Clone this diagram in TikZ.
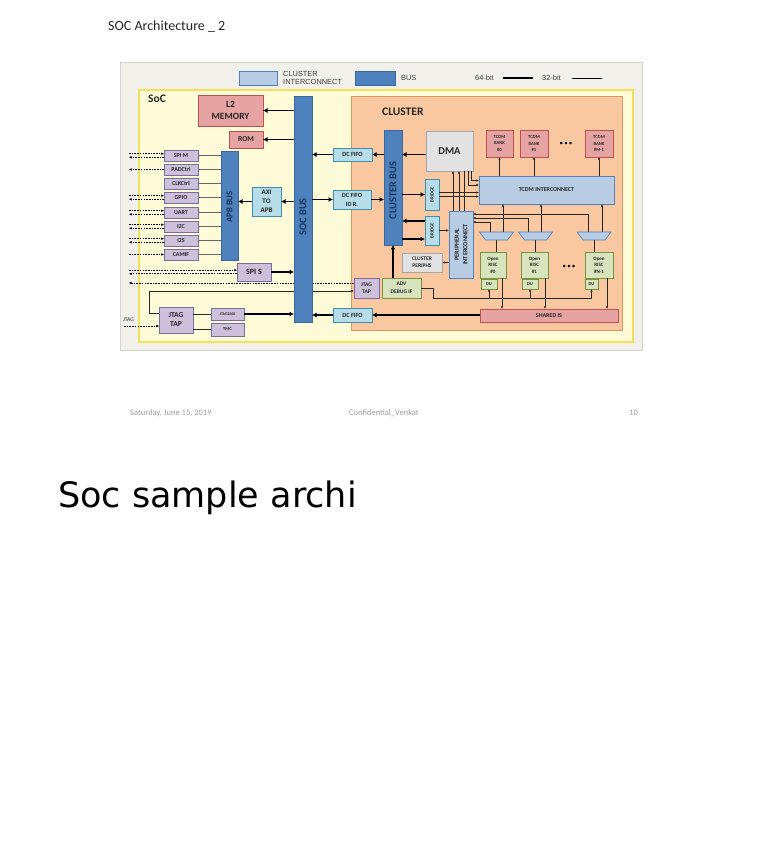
\documentclass[tikz,border=0pt]{standalone}
\usepackage{fontspec}
\setmainfont{Carlito}
\newfontfamily\dejavu{DejaVu Sans}
\newfontfamily\arialish{Liberation Sans}
\usetikzlibrary{arrows.meta}
\definecolor{framebg}{HTML}{F1F0EA}
\definecolor{framebd}{HTML}{D4D2CA}
\definecolor{socbg}{HTML}{FEFCD8}
\definecolor{socbd}{HTML}{F2E15A}
\definecolor{clbg}{HTML}{F9C8A0}
\definecolor{clbd}{HTML}{DC9662}
\definecolor{busfill}{HTML}{4F81BD}
\definecolor{busbd}{HTML}{3A679E}
\definecolor{icfill}{HTML}{B8CCE4}
\definecolor{icbd}{HTML}{4F81BD}
\definecolor{cyfill}{HTML}{B7DEE8}
\definecolor{cybd}{HTML}{3C8FB0}
\definecolor{redfill}{HTML}{E6A3A3}
\definecolor{redbd}{HTML}{C0504D}
\definecolor{purfill}{HTML}{CCC0DA}
\definecolor{purbd}{HTML}{7F6A9E}
\definecolor{grnfill}{HTML}{D7E4BD}
\definecolor{grnbd}{HTML}{77933C}
\definecolor{gryfill}{HTML}{E2E2E2}
\definecolor{grybd}{HTML}{A6A6A6}
\definecolor{txt}{HTML}{262626}
\definecolor{bustxt}{HTML}{17375E}
\definecolor{footgray}{HTML}{A0A0A0}
\definecolor{legtxtc}{HTML}{404040}
\newcommand\blk[7]{\node[#2, anchor=north west, minimum width={(#5-(#3))*1pt}, minimum height={(#6-(#4))*1pt}] (#1) at (#3,#4) {#7};}
\newcommand\dpair[2]{%
 \draw[dsh,dtip] ([yshift=1.8pt]#1.west) ++(-#2,0) -- ([yshift=1.8pt]#1.west);
 \draw[dsh,dtip] ([yshift=-1.8pt]#1.west) -- ++(-#2,0);}
\newcommand\muxat[3]{%
 \coordinate (#1) at (#2,#3);
 \coordinate (#1n) at (#2,#3-4);
 \coordinate (#1s) at (#2,#3+4);
 \draw[muxst] ([xshift=-17pt,yshift=4pt]#1) -- ([xshift=17pt,yshift=4pt]#1) -- ([xshift=11pt,yshift=-4pt]#1) -- ([xshift=-11pt,yshift=-4pt]#1) -- cycle;}
\tikzset{
 region/.style={draw, inner sep=0pt, outer sep=0pt},
 base/.style={draw, inner sep=0pt, outer sep=0pt, align=center, text=txt, line width=0.8pt},
 redb/.style={base, fill=redfill, draw=redbd},
 purb/.style={base, fill=purfill, draw=purbd, font=\bfseries\fontsize{6}{6.5}\selectfont},
 grnb/.style={base, fill=grnfill, draw=grnbd, font=\bfseries\fontsize{5}{6.6}\selectfont},
 gryb/.style={base, fill=gryfill, draw=grybd},
 cyb/.style={base, fill=cyfill, draw=cybd, font=\bfseries\fontsize{6.3}{9}\selectfont},
 icb/.style={base, fill=icfill, draw=icbd},
 busb/.style={base, fill=busfill, draw=busbd},
 bustext/.style={rotate=90, text=bustxt, inner sep=0pt, font=\bfseries\fontsize{10.5}{11}\selectfont},
 legtxt/.style={inner sep=0pt, text=legtxtc, align=left, font=\arialish\fontsize{7.4}{8.8}\selectfont},
 fat/.style={line width=1.5pt, draw=black, -{Latex[length=4.5pt,width=5pt]}},
 thinln/.style={line width=0.6pt, draw=black!85},
 thinarr/.style={thinln, -{Latex[length=2.6pt,width=2.4pt]}},
 dsh/.style={line width=0.7pt, dash pattern=on 1.6pt off 1.1pt},
 dtip/.style={-{Latex[length=2.6pt,width=2.6pt]}},
 muxst/.style={draw=icbd, fill=icfill, line width=0.7pt},
 foot/.style={inner sep=0pt, text=footgray, font=\fontsize{8.5}{10}\selectfont}
}
\begin{document}
\begin{tikzpicture}[x=1pt,y=-1pt]
\useasboundingbox (0,0) rectangle (768,866);
\fill[white] (0,0) rectangle (768,866);

\node[anchor=base west, inner sep=0pt, text=black!85, font=\fontsize{14}{16}\selectfont] (title) at (108,30.5) {SOC Architecture \_ 2};

% regions
\blk{frame}{region, fill=framebg, draw=framebd, line width=0.6pt}{120}{62}{642}{350}{}
\blk{soc}{region, fill=socbg, draw=socbd, line width=1.3pt}{139}{90}{633}{342}{}
\blk{cluster}{region, fill=clbg, draw=clbd, line width=1pt}{351}{97}{622}{330}{}
\node[anchor=west, inner sep=0pt, text=txt, font=\bfseries\fontsize{11.5}{12}\selectfont] (soclbl) at (148,98.5) {SoC};
\node[anchor=west, inner sep=0pt, text=txt, font=\bfseries\fontsize{11.5}{12}\selectfont] (cllbl) at (382,112) {CLUSTER};

% legend
\blk{legic}{icb}{239}{71}{277}{85}{}
\node[legtxt, anchor=west] (legictxt) at (283,78) {CLUSTER\\INTERCONNECT};
\blk{legbus}{busb}{355}{71}{395}{85}{}
\node[legtxt, anchor=west] (legbustxt) at (401,78) {BUS};
\node[legtxt, anchor=west] (l64) at (475,78) {64-bit};
\coordinate (l64a) at (503,78); \coordinate (l64b) at (533,78);
\draw[line width=1.6pt] (l64a) -- (l64b);
\node[legtxt, anchor=west] (l32) at (542,78) {32-bit};
\coordinate (l32a) at (572,78); \coordinate (l32b) at (602,78);
\draw[line width=0.6pt] (l32a) -- (l32b);

% cluster blocks
\blk{clbus}{busb}{384}{130}{402}{245}{}
\node[bustext] (clbustxt) at ([yshift=-3pt]clbus.center) {CLUSTER BUS};
\blk{dma}{gryb, font=\bfseries\fontsize{10.5}{11}\selectfont}{426}{131}{473}{171}{DMA}
\blk{bank0}{redb, font=\bfseries\fontsize{4.6}{6.5}\selectfont}{486}{130}{513}{157}{TCDM\\BANK\\\#0}
\blk{bank1}{redb, font=\bfseries\fontsize{4.6}{6.5}\selectfont}{520}{130}{548}{157}{TCDM\\BANK\\\#1}
\blk{bankm}{redb, font=\bfseries\fontsize{4.6}{6.5}\selectfont}{585}{130}{613}{157}{TCDM\\BANK\\\#M-1}
\node[inner sep=0pt, font=\fontsize{7}{7}\selectfont] (dots1) at (566,144) {\textbullet\,\textbullet\,\textbullet};
\blk{tcdm}{icb, font=\bfseries\fontsize{6}{7}\selectfont}{479}{176}{614}{204}{TCDM INTERCONNECT}
\blk{br1}{cyb}{425}{179}{439}{210}{}
\node[rotate=90, inner sep=0pt, text=txt, font=\bfseries\fontsize{4.8}{5}\selectfont] (br1t) at (br1.center) {BRIDGE};
\blk{br2}{cyb}{425}{216}{439}{245}{}
\node[rotate=90, inner sep=0pt, text=txt, font=\bfseries\fontsize{4.8}{5}\selectfont] (br2t) at (br2.center) {BRIDGE};
\blk{pi}{icb}{449}{211}{473}{278}{}
\node[rotate=90, inner sep=0pt, text=txt, align=center, font=\bfseries\fontsize{6.3}{8.5}\selectfont] (pit) at (pi.center) {PERIPHERAL\\INTERCONNECT};
\blk{cper}{gryb, font=\bfseries\fontsize{5.5}{7}\selectfont}{402}{253}{442}{272}{CLUSTER\\PERIPHS}
\muxat{mux0}{496.5}{236}
\muxat{mux1}{535.5}{236}
\muxat{muxn}{594}{236}
\blk{or0}{grnb}{480}{252}{506}{278}{Open\\RISC\\\#0}
\blk{or1}{grnb}{521}{252}{548}{278}{Open\\RISC\\\#1}
\blk{orn}{grnb}{585}{252}{613}{278}{Open\\RISC\\\#N-1}
\node[inner sep=0pt, font=\fontsize{7}{7}\selectfont] (dots2) at (569,267) {\textbullet\,\textbullet\,\textbullet};
\blk{du0}{grnb, font=\bfseries\fontsize{4.5}{5}\selectfont}{481}{279}{497}{289}{DU}
\blk{du1}{grnb, font=\bfseries\fontsize{4.5}{5}\selectfont}{522}{279}{538}{289}{DU}
\blk{dun}{grnb, font=\bfseries\fontsize{4.5}{5}\selectfont}{585}{279}{598}{289}{DU}
\blk{shared}{redb, font=\bfseries\fontsize{6}{7}\selectfont}{480}{309}{618}{322}{SHARED IS}
\blk{cjtag}{purb, font=\bfseries\fontsize{5.5}{7}\selectfont}{354}{278}{379}{298}{JTAG\\TAP}
\blk{adv}{grnb, font=\bfseries\fontsize{5.5}{8}\selectfont}{382}{278}{421}{298}{ADV\\DEBUG IF}

% cluster connections
\draw[fat] (clbus.east |- br1.west) -- (br1.west);
\coordinate (b2a) at ([yshift=9.5pt]br2.west);
\coordinate (b2b) at ([yshift=-8.5pt]br2.west);
\draw[fat] (b2a) -- (clbus.east |- b2a);
\draw[fat] (clbus.east |- b2b) -- (b2b);
\draw[fat] (clbus.south |- adv.north) -- (clbus.south);
\coordinate (br1a) at ([yshift=2pt]br1.east);
\coordinate (br1b) at ([yshift=-2pt]br1.east);
\draw[thinarr] (br1a) -- (tcdm.west |- br1a);
\draw[thinarr] (br1b) -- (tcdm.west |- br1b);
\draw[thinarr] (br2.east) -- (pi.west |- br2.east);
\coordinate (dv1) at ([xshift=3.5pt]dma.south);
\coordinate (dv2) at ([xshift=9.5pt]dma.south);
\coordinate (dv3) at ([xshift=15pt]dma.south);
\draw[thinarr] (dv1 |- pi.north) -- (dv1);
\draw[thinarr] (dv2 |- pi.north) -- (dv2);
\draw[thinln] (dv3) -- (dv3 |- pi.north);
\coordinate (dt1) at ([xshift=18.5pt]dma.south);
\coordinate (dt2) at ([xshift=22pt]dma.south);
\coordinate (dt1e) at ([yshift=-9pt]tcdm.north west);
\coordinate (dt2e) at ([yshift=-4.5pt]tcdm.north west);
\draw[thinarr] (dt1) |- (dt1e);
\draw[thinarr] (dt2) |- (dt2e);
\draw[thinarr] (tcdm.north -| bank0.south) -- (bank0.south);
\draw[thinarr] (tcdm.north -| bank1.south) -- (bank1.south);
\draw[thinarr] (tcdm.north -| bankm.south) -- (bankm.south);
\coordinate (m0t) at ([xshift=6.5pt]mux0n);
\coordinate (m1t) at ([xshift=5.5pt]mux1n);
\coordinate (mnt) at ([xshift=8pt]muxnn);
\draw[thinarr] (m0t) -- (m0t |- tcdm.south);
\draw[thinarr] (m1t) -- (m1t |- tcdm.south);
\draw[thinarr] (mnt) -- (mnt |- tcdm.south);
\coordinate (m0l) at ([xshift=-6.5pt]mux0n);
\coordinate (m1l) at ([xshift=-7.5pt]mux1n);
\coordinate (mnl) at ([xshift=-6pt]muxnn);
\coordinate (pia) at ([yshift=30.5pt]pi.east);
\coordinate (pib) at ([yshift=26.5pt]pi.east);
\coordinate (pic) at ([yshift=22.5pt]pi.east);
\draw[thinarr] (mnl) |- (pia);
\draw[thinarr] (m1l) |- (pib);
\draw[thinarr] (m0l) |- (pic);
\draw[thinarr] (pi.west |- cper.east) -- (cper.east);
\draw[thinln] (mux0s) -- (mux0s |- or0.north);
\draw[thinln] (mux1s) -- (mux1s |- or1.north);
\draw[thinln] (muxns) -- (muxns |- orn.north);
\coordinate (dbg1) at (433,298);
\draw[thinln] (adv.east) -| (dbg1) -- (dun.south |- dbg1);
\draw[thinarr] (du0.south |- dbg1) -- (du0.south);
\draw[thinarr] (du1.south |- dbg1) -- (du1.south);
\draw[thinarr] (dun.south |- dbg1) -- (dun.south);
\coordinate (or0r) at ([xshift=-4pt]or0.south east);
\coordinate (or1r) at ([xshift=-3pt]or1.south east);
\coordinate (ornr) at ([xshift=-6pt]orn.south east);
\draw[thinarr] (or0r) -- (or0r |- shared.north);
\draw[thinarr] (or1r) -- (or1r |- shared.north);
\draw[thinarr] (ornr) -- (ornr |- shared.north);

% SoC JTAG and lines crossing the SOC bus
\blk{jtag}{purb, font=\bfseries\fontsize{7.5}{9}\selectfont}{159}{307}{193}{333}{JTAG\\TAP}
\coordinate (jtagout) at (129,283);
\coordinate (cjo) at ([yshift=5pt]cjtag.west);
\draw[dsh,dtip] (cjo) -- (jtagout |- cjo);
\coordinate (loopc) at (149,291);
\coordinate (jtl) at ([yshift=7pt]jtag.west);
\draw[thinarr] (jtl) -| (loopc) -- (loopc -| cjtag.west);

% SoC side blocks
\blk{l2}{redb, font=\bfseries\fontsize{9.5}{11.5}\selectfont}{198}{95}{263}{126}{L2\\MEMORY}
\blk{rom}{redb, font=\bfseries\fontsize{7.5}{8}\selectfont}{229}{131}{263}{148}{ROM}
\blk{socbus}{busb}{294}{96}{312}{322}{}
\node[bustext] (socbustxt) at ([yshift=-8pt]socbus.center) {SOC BUS};
\blk{apb}{busb}{221}{151}{238}{260}{}
\node[bustext, font=\bfseries\fontsize{8.8}{9}\selectfont] (apbtxt) at ([yshift=-1.5pt]apb.center) {APB BUS};
\blk{dcf1}{cyb}{333}{148}{372}{161}{DC FIFO}
\blk{dcf2}{cyb}{333}{190}{371}{209}{DC FIFO\\ID R.}
\blk{dcf3}{cyb}{333}{308}{372}{322}{DC FIFO}
\blk{axi}{cyb, font=\bfseries\fontsize{7}{9}\selectfont}{252}{187}{281}{216}{AXI\\TO\\APB}
\blk{spim}{purb}{164}{150}{198}{161}{SPI M}
\blk{padc}{purb}{164}{164}{198}{175}{PADCtrl}
\blk{clkc}{purb}{164}{178}{198}{189}{CLKCtrl}
\blk{gpio}{purb}{164}{192}{198}{203}{GPIO}
\blk{uart}{purb}{164}{207}{198}{218}{UART}
\blk{iic}{purb}{164}{221}{198}{232}{I2C}
\blk{iis}{purb}{164}{235}{198}{246}{I2S}
\blk{camif}{purb}{164}{249}{198}{260}{CAMIF}
\blk{spis}{purb, font=\bfseries\fontsize{8}{9}\selectfont}{237}{263}{271}{281}{SPI S}
\blk{j2a}{purb, font=\bfseries\fontsize{4}{5}\selectfont}{211}{308}{244}{320}{JTAG2AXI}
\blk{tmc}{purb, font=\bfseries\fontsize{4.5}{5}\selectfont}{211}{323}{244}{336}{TMC}
\node[anchor=west, inner sep=0pt, text=txt, font=\fontsize{5.5}{6}\selectfont] (jtaglbl) at (123,320) {JTAG};

% SoC connections
\draw[fat] (socbus.west |- l2.east) -- (l2.east);
\draw[fat] (socbus.west |- rom.east) -- (rom.east);
\draw[fat] (clbus.west |- dcf1.east) -- (dcf1.east);
\draw[fat] (dcf1.west) -- (socbus.east |- dcf1.west);
\draw[fat] (dma.west |- dcf1.east) -- (clbus.east |- dcf1.east);
\draw[fat] (socbus.west |- axi.east) -- (axi.east);
\draw[fat] (axi.west) -- (apb.east |- axi.west);
\draw[fat] (socbus.east |- dcf2.west) -- (dcf2.west);
\draw[fat] (dcf2.east) -- (clbus.west |- dcf2.east);
\draw[fat] (spis.east) -- (socbus.west |- spis.east);
\draw[fat] (j2a.east) -- (socbus.west |- j2a.east);
\draw[fat] (dcf3.west) -- (socbus.east |- dcf3.west);
\draw[fat] (shared.west |- dcf3.east) -- (dcf3.east);
\draw[thinln] (jtag.east |- j2a.west) -- (j2a.west);
\draw[thinln] (jtag.east |- tmc.west) -- (tmc.west);
\coordinate (jtagin) at (124,326);
\draw[dsh,dtip] (jtagin) -- (jtagin -| jtag.west);
\foreach \p in {spim,padc,clkc,gpio,uart,iic,iis,camif}{
  \draw[line width=0.5pt, draw=black!60] (\p.east) -- (\p.east -| apb.west);
}
\dpair{spim}{35}
\draw[dsh,dtip] (padc.west) -- ++(-35,0);
\dpair{gpio}{35}
\dpair{uart}{35}
\dpair{iic}{35}
\dpair{iis}{35}
\draw[dsh,dtip] (camif.west) ++(-35,0) -- (camif.west);
\dpair{spis}{108}

% footer and caption
\node[foot, anchor=base west] (f1) at (130,415) {Saturday, June 15, 2019};
\node[foot, anchor=base] (f2) at (384,415) {Confidential\_Venkat};
\node[foot, anchor=base east] (f3) at (638,415) {10};
\node[anchor=base west, inner sep=0pt, font=\dejavu\fontsize{35}{40}\selectfont] (caption) at (58,507) {Soc sample archi};
\end{tikzpicture}
\end{document}
